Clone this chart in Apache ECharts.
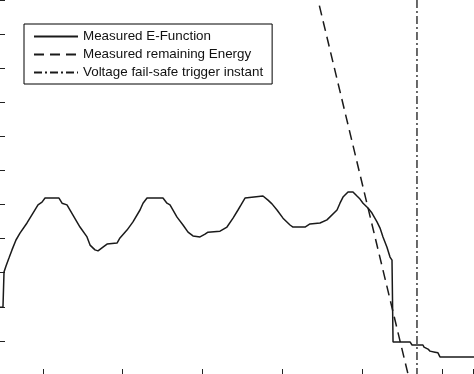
<!DOCTYPE html>
<html>
<head>
<meta charset="utf-8">
<script src="https://cdn.jsdelivr.net/npm/echarts@6/dist/echarts.min.js"></script>
<style>
html,body{margin:0;padding:0;background:#fff;}
#chart{width:474px;height:374px;}
</style>
</head>
<body>
<div id="chart"></div>
<script>
// Series names (legend)
const seriesNames = ['Measured E-Function', 'Measured remaining Energy', 'Voltage fail-safe trigger instant'];

// Measured E-Function
const eFuncX = [0.464,0.501,0.514,0.539,0.576,0.614,0.664,0.714,0.802,0.877,0.940,0.990,1.028,1.203,1.241,1.303,1.378,1.466,1.554,1.592,1.654,1.692,1.754,1.805,1.930,1.967,2.055,2.130,2.218,2.256,2.306,2.506,2.556,2.594,2.682,2.757,2.820,2.882,2.970,3.033,3.070,3.221,3.308,3.384,3.446,3.484,3.534,3.559,3.759,3.822,3.872,3.935,4.010,4.098,4.135,4.286,4.348,4.474,4.561,4.687,4.724,4.762,4.825,4.887,4.937,4.975,5.013,5.075,5.125,5.188,5.226,5.263,5.313,5.351,5.376,5.389,5.602,5.627,5.764,5.777,5.827,5.852,5.915,5.952,5.977,6.479];
const eFuncY = [1.99,1.99,3.02,3.20,3.43,3.67,3.96,4.16,4.46,4.75,4.99,5.07,5.19,5.19,5.04,4.99,4.69,4.34,4.05,3.81,3.67,3.64,3.75,3.84,3.87,4.02,4.25,4.49,4.84,5.04,5.19,5.19,5.04,4.99,4.63,4.40,4.19,4.08,4.05,4.13,4.19,4.22,4.34,4.60,4.84,4.99,5.19,5.22,5.25,5.13,5.02,4.84,4.60,4.40,4.34,4.34,4.43,4.46,4.55,4.84,5.04,5.22,5.37,5.37,5.25,5.16,5.04,4.90,4.75,4.49,4.31,4.05,3.75,3.46,3.37,0.97,0.97,0.88,0.88,0.82,0.76,0.70,0.67,0.65,0.53,0.53];

// Measured remaining Energy
const energyX = [4.419, 5.609];
const energyY = [11.29, -0.29];

// Voltage fail-safe trigger instant
const triggerX = [5.689, 5.689];
const triggerY = [-0.5, 11.5];

const zip = (xs, ys) => xs.map((x, i) => [x, ys[i]]);

const chart = echarts.init(document.getElementById('chart'), null, {renderer: 'canvas'});

const tickStyle = {inside: true, length: 6, lineStyle: {color: '#222', width: 1}};
const hide = {show: false};

chart.setOption({
  animation: false,
  backgroundColor: '#fff',
  grid: {left: -37, right: 1, top: 0, bottom: -1, containLabel: false, outerBoundsMode: 'none'},
  xAxis: [
    {type: 'value', position: 'bottom', min: 0, max: 6.391, interval: 1,
     axisLine: {show: true, lineStyle: {color: '#333'}}, axisTick: tickStyle,
     axisLabel: hide, splitLine: hide},
    {type: 'value', position: 'top', min: 0, max: 6.391, interval: 1,
     axisLine: {show: true, lineStyle: {color: '#8a8a8a', width: 1.5}}, axisTick: tickStyle,
     axisLabel: hide, splitLine: hide}
  ],
  yAxis: [
    {type: 'value', position: 'left', offset: -36, min: 0, max: 11, interval: 1,
     axisLine: {show: true, lineStyle: {color: '#333'}}, axisTick: tickStyle,
     axisLabel: hide, splitLine: hide},
    {type: 'value', position: 'right', min: 0, max: 11, interval: 1,
     axisLine: {show: true, lineStyle: {color: '#a8a8a8', width: 1.5}}, axisTick: tickStyle,
     axisLabel: hide, splitLine: hide}
  ],
  legend: {
    orient: 'vertical', left: 24, top: 24,
    padding: [6, 9, 5, 9],
    itemWidth: 44, itemHeight: 13, itemGap: 5,
    borderColor: '#000', borderWidth: 1, backgroundColor: '#fff',
    selectedMode: false,
    itemStyle: {opacity: 0},
    textStyle: {fontFamily: 'Liberation Sans, Arial, sans-serif', fontSize: 13.4, color: '#111'},
    data: seriesNames
  },
  series: [
    {name: seriesNames[0], type: 'line', symbol: 'none', data: zip(eFuncX, eFuncY),
     lineStyle: {color: '#1a1a1a', width: 1.5, type: 'solid'}, itemStyle: {color: '#1a1a1a'}, z: 3},
    {name: seriesNames[1], type: 'line', symbol: 'none', data: zip(energyX, energyY),
     lineStyle: {color: '#1a1a1a', width: 1.5, type: [10, 6]}, itemStyle: {color: '#1a1a1a'}, z: 2},
    {name: seriesNames[2], type: 'line', symbol: 'none', data: zip(triggerX, triggerY),
     lineStyle: {color: '#1a1a1a', width: 1.3, type: [8, 3, 2, 3]}, itemStyle: {color: '#1a1a1a'}, z: 2}
  ]
});
</script>
</body>
</html>
